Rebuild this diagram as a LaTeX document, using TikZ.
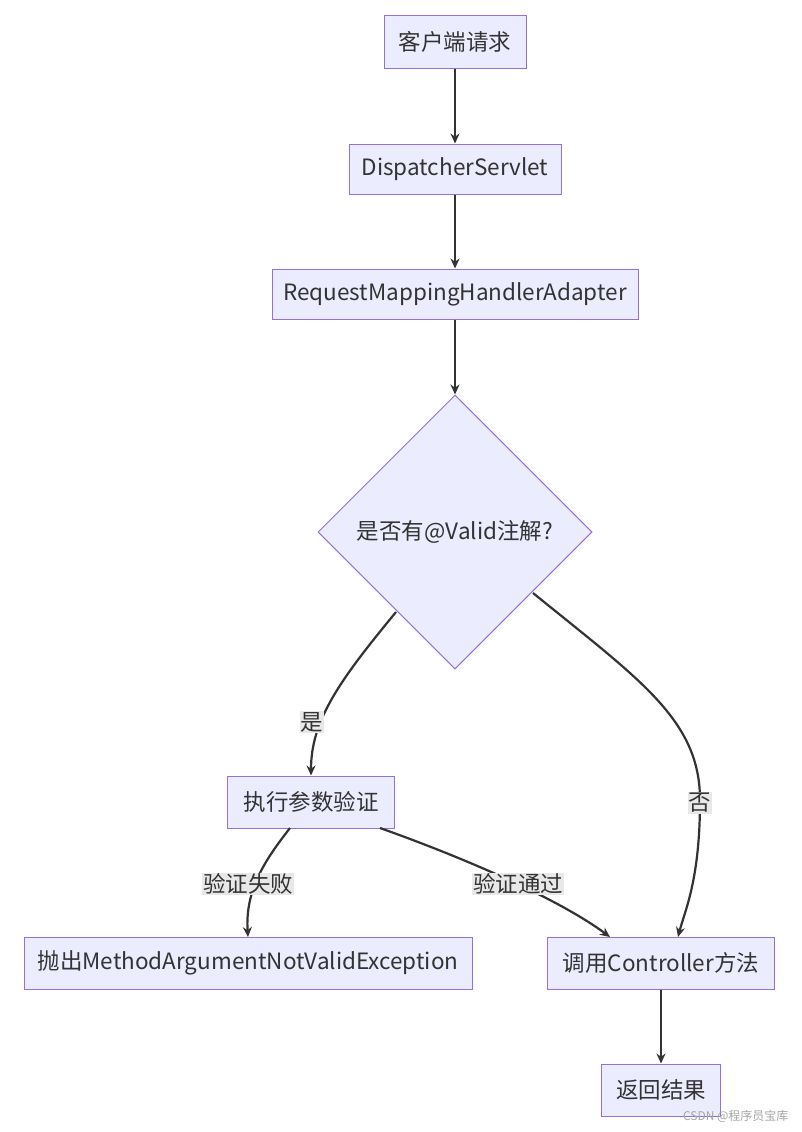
\documentclass[tikz,border=0pt]{standalone}
\usepackage{fontspec}
\setmainfont{Noto Sans CJK SC}
\usetikzlibrary{shapes.geometric,arrows.meta}
\definecolor{nfill}{HTML}{ECECFF}
\definecolor{nline}{HTML}{9370DB}
\definecolor{eline}{HTML}{333333}
\definecolor{lbg}{HTML}{E8E8E8}
\begin{document}
\begin{tikzpicture}[x=1pt,y=-1pt,
  box/.style={draw=nline,fill=nfill,line width=1pt,font=\fontsize{22.5}{26}\selectfont,text=eline,inner sep=0pt},
  lab/.style={fill=lbg,font=\fontsize{22.5}{26}\selectfont,text=eline,inner sep=1pt},
  ed/.style={draw=eline,line width=2.2pt,-{Stealth[length=10pt,width=9pt]}}]
\useasboundingbox[fill=white] (0,0) rectangle (802,1132);
\node[box,minimum width=142pt,minimum height=53pt] (a) at (455,42) {客户端请求};
\node[box,minimum width=212pt,minimum height=50pt] (b) at (455,169) {DispatcherServlet};
\node[box,minimum width=366pt,minimum height=50pt] (c) at (455,294) {RequestMappingHandlerAdapter};
\node[box,diamond,aspect=1,minimum size=274pt] (d) at (455,532) {是否有@Valid注解?};
\node[box,minimum width=167pt,minimum height=52pt] (e) at (311,802) {执行参数验证};
\node[box,minimum width=448pt,minimum height=52pt] (f) at (248,963) {抛出MethodArgumentNotValidException};
\node[box,minimum width=227pt,minimum height=52pt] (g) at (661,963) {调用Controller方法};
\node[box,minimum width=119pt,minimum height=52pt] (h) at (661,1090) {返回结果};
\draw[ed] (a) -- (b);
\draw[ed] (b) -- (c);
\draw[ed] (c) -- (d);
\draw[ed] (396,612) .. controls (340,680) and (311,720) .. (e.north);
\draw[ed] (533,593) .. controls (640,680) and (700,720) .. (700,800) .. controls (700,880) and (685,910) .. (678,937);
\draw[ed] (290,828) .. controls (265,860) and (245,890) .. (248,937);
\draw[ed] (380,828) .. controls (470,860) and (560,900) .. (610,937);
\draw[ed] (g) -- (h);
\node[lab] (l1) at (312,722) {是};
\node[lab] (l2) at (700,803) {否};
\node[lab] (l3) at (248,884) {验证失败};
\node[lab] (l4) at (518,884) {验证通过};
\node[font=\fontsize{12}{13}\selectfont,text=gray!70,anchor=east] (w) at (792,1116) {CSDN @程序员宝库};
\end{tikzpicture}
\end{document}
